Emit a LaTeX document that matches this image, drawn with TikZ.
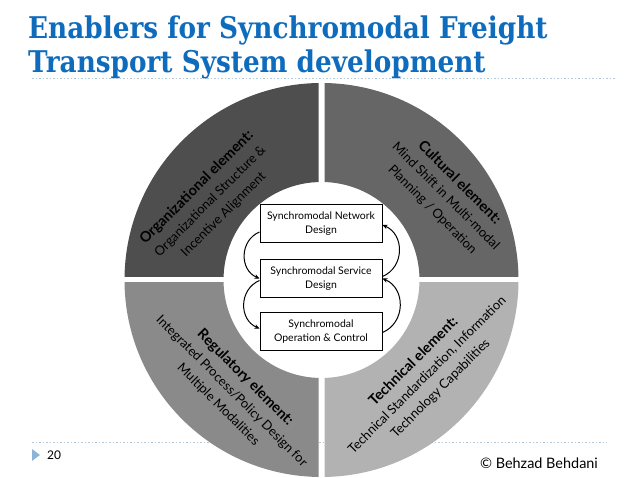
\documentclass[tikz,border=0pt]{standalone}
\usepackage{fontspec}
\setmainfont{Lato}
\newfontfamily\titlefont{DejaVu Serif}
\usetikzlibrary{arrows.meta}
\definecolor{titleblue}{RGB}{15,108,189}
\definecolor{dotline}{RGB}{180,200,220}
\definecolor{tri}{RGB}{141,179,214}
\definecolor{qTL}{RGB}{78,78,78}
\definecolor{qTR}{RGB}{102,102,102}
\definecolor{qBL}{RGB}{138,138,138}
\definecolor{qBR}{RGB}{178,178,178}
\tikzset{
  titletext/.style={anchor=base west, inner sep=0, text=titleblue, font=\titlefont\bfseries\fontsize{30}{32}\selectfont},
  quadtext/.style={align=center, inner sep=0, font=\fontsize{13}{19}\selectfont},
  syncbox/.style={draw=black, line width=1bp, fill=white, minimum width=122bp, minimum height=38bp, inner sep=0, align=center, font=\fontsize{10.5}{14}\selectfont},
  cyc/.style={line width=1bp, -{Stealth[length=5bp,width=4.5bp]}, looseness=1.2},
  dotsep/.style={dotline, line width=1bp, dash pattern=on 1.5bp off 2bp}
}
\begin{document}
\begin{tikzpicture}[x=1bp,y=1bp]
\useasboundingbox (0,0) rectangle (638,478);
% title
\node[titletext] (t1) at (28,439) {\scalebox{0.88}[1]{Enablers for Synchromodal Freight}};
\node[titletext] (t2) at (28,405) {\scalebox{0.88}[1]{Transport System development}};
% dotted rules
\coordinate (d1a) at (32,399); \coordinate (d1b) at (615,399);
\coordinate (d2a) at (32,35); \coordinate (d2b) at (607,35);
\draw[dotsep] (d1a) -- (d1b);
\draw[dotsep] (d2a) -- (d2b);
% ring
\coordinate (C) at (321.5,198);
\begin{scope}
\clip ([shift={(3,3)}]C) rectangle ++(250,250);
\fill[qTR, even odd rule] (C) circle (197) (C) circle (98);
\end{scope}
\begin{scope}
\clip ([shift={(-3,3)}]C) rectangle ++(-250,250);
\fill[qTL, even odd rule] (C) circle (197) (C) circle (98);
\end{scope}
\begin{scope}
\clip ([shift={(-3,-3)}]C) rectangle ++(-250,-250);
\fill[qBL, even odd rule] (C) circle (197) (C) circle (98);
\end{scope}
\begin{scope}
\clip ([shift={(3,-3)}]C) rectangle ++(250,-250);
\fill[qBR, even odd rule] (C) circle (197) (C) circle (98);
\end{scope}
% quadrant texts
\node[quadtext, rotate=45] (org) at (210,277) {{\bfseries\fontsize{14.5}{19}\selectfont Organizational element:}\\Organizational Structure \&\\Incentive Alignment};
\node[quadtext, rotate=-45] (cul) at (446,282) {{\bfseries\fontsize{14.5}{19}\selectfont Cultural element:}\\Mind Shift in Multi-modal\\Planning / Operation};
\node[quadtext, rotate=-45] (reg) at (232,87) {{\bfseries\fontsize{14.5}{19}\selectfont Regulatory element:}\\Integrated Process/Policy Design for\\Multiple Modalities};
\node[quadtext, rotate=45] (tec) at (427,103) {{\bfseries\fontsize{14.5}{19}\selectfont Technical element:}\\Technical Standardization, Information\\Technology Capabilities};
% boxes
\node[syncbox] (b1) at (321,254) {Synchromodal Network\\Design};
\node[syncbox] (b2) at (321,199.5) {Synchromodal Service\\Design};
\node[syncbox] (b3) at (321,146.5) {Synchromodal\\Operation \& Control};
% cycle arrows
\draw[cyc] ([yshift=-8]b1.west) to[out=203,in=157] ([yshift=0]b2.west);
\draw[cyc] ([yshift=-2]b2.west) to[out=203,in=157] ([yshift=3]b3.west);
\draw[cyc] ([yshift=-1]b3.east) to[out=23,in=-23] ([yshift=0]b2.east);
\draw[cyc] ([yshift=2]b2.east) to[out=23,in=-23] ([yshift=-1]b1.east);
% footer
\fill[tri] (32,29) -- (40,23) -- (32,17) -- cycle;
\node[anchor=west, inner sep=0, font=\fontsize{12}{14}\selectfont] (pg) at (47,23) {20};
\node[inner sep=0, font=\fontsize{14.5}{17}\selectfont] (copy) at (539,15) {© Behzad Behdani};
\end{tikzpicture}
\end{document}
